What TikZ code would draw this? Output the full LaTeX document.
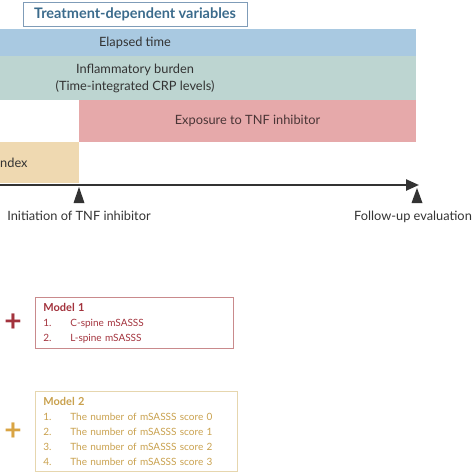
\documentclass[tikz,border=0pt]{standalone}
\usepackage{fontspec}
\setmainfont{Lato}
\usepackage{tikz}
\usetikzlibrary{arrows.meta,positioning}
\definecolor{hdrline}{HTML}{7F9CB8}
\definecolor{hdrtext}{HTML}{3B6B8C}
\definecolor{elapsed}{HTML}{A9C9E1}
\definecolor{burden}{HTML}{BDD5D1}
\definecolor{exposure}{HTML}{E6A9AA}
\definecolor{baseline}{HTML}{EFD9B1}
\definecolor{axisgray}{HTML}{333333}
\definecolor{exptext}{HTML}{4A3536}
\definecolor{modelred}{HTML}{A3333D}
\definecolor{modelredline}{HTML}{C98A8C}
\definecolor{modelgold}{HTML}{C9A14E}
\definecolor{plusgold}{HTML}{D9A443}
\definecolor{modelgoldline}{HTML}{E6D6AE}

\begin{document}
\begin{tikzpicture}[
    x=1pt,y=-1pt,
    band/.style={inner sep=0pt,outer sep=0pt,align=center,font=\fontsize{12.8}{17}\selectfont,text=axisgray},
    header/.style={draw=hdrline,line width=0.8pt,minimum width=224pt,minimum height=24pt,inner sep=0pt,font=\bfseries\fontsize{14.5}{14.5}\selectfont,text=hdrtext},
    pointer/.style={fill=axisgray},
    axis/.style={draw=axisgray,line width=2.4pt,-{Triangle[length=13pt,width=11pt]}},
    timelabel/.style={inner sep=0pt,font=\fontsize{12.8}{12.8}\selectfont,text=axisgray},
    modelbox/.style={draw,line width=0.8pt,inner xsep=8pt,inner ysep=0pt,align=left,font=\fontsize{10}{15}\selectfont},
    plus/.style={inner sep=0pt,font=\bfseries\fontsize{30}{30}\selectfont}
  ]
    \useasboundingbox (0,0) rectangle (474,474);
    \clip (0,0) rectangle (474,474);

    \node[header] (hdr) at (135,14) {Treatment-dependent variables};

    % bands
    \node[band,fill=elapsed,minimum width=562pt,minimum height=27pt,anchor=north west] (elapsed) at (-146,29) {Elapsed time};
    \node[band,fill=burden,minimum width=562pt,minimum height=44pt,below=0pt of elapsed] (burden) {Inflammatory burden\\(Time-integrated CRP levels)};
    \node[band,fill=exposure,text=exptext,minimum width=337pt,minimum height=42pt,below=0pt of burden.south east,anchor=north east] (exposure) {Exposure to TNF inhibitor};
    \node[band,fill=baseline,minimum width=225pt,minimum height=41pt,anchor=north east] (baseline) at (exposure.south west) {};
    \node[timelabel,anchor=west] (baselbl) at (0,163) {ndex};

    % time axis
    \coordinate (axstart) at (-10,185);
    \coordinate (axend) at (419,185);
    \draw[axis] (axstart) -- (axend);

    \coordinate (initpt) at (79,187);
    \coordinate (followpt) at (417,188);
    \fill[pointer] (initpt) -- ++(-5.5,16) -- ++(11,0) -- cycle;
    \fill[pointer] (followpt) -- ++(-5.5,15) -- ++(11,0) -- cycle;
    \node[timelabel,below=24pt of initpt] (initlbl) {Initiation of TNF inhibitor};
    \node[timelabel,below=23pt of followpt,xshift=-4pt] (followlbl) {Follow-up evaluation};

    % models
    \node[modelbox,draw=modelredline,text=modelred,text width=182pt,minimum height=51pt,anchor=north west] (model1) at (35,297)
      {{\bfseries\fontsize{11}{15}\selectfont Model 1}\\\makebox[27pt][l]{1.}C-spine mSASSS\\\makebox[27pt][l]{2.}L-spine mSASSS};
    \node[plus,text=modelred,left=13pt of model1] (plus1) {+};

    \node[modelbox,draw=modelgoldline,text=modelgold,text width=186pt,minimum height=80pt,anchor=north west] (model2) at (35,391)
      {{\bfseries\fontsize{11}{15}\selectfont Model 2}\\\makebox[27pt][l]{1.}The number of mSASSS score 0\\\makebox[27pt][l]{2.}The number of mSASSS score 1\\\makebox[27pt][l]{3.}The number of mSASSS score 2\\\makebox[27pt][l]{4.}The number of mSASSS score 3};
    \node[plus,text=plusgold,left=13pt of model2] (plus2) {+};
  \end{tikzpicture}
\end{document}
